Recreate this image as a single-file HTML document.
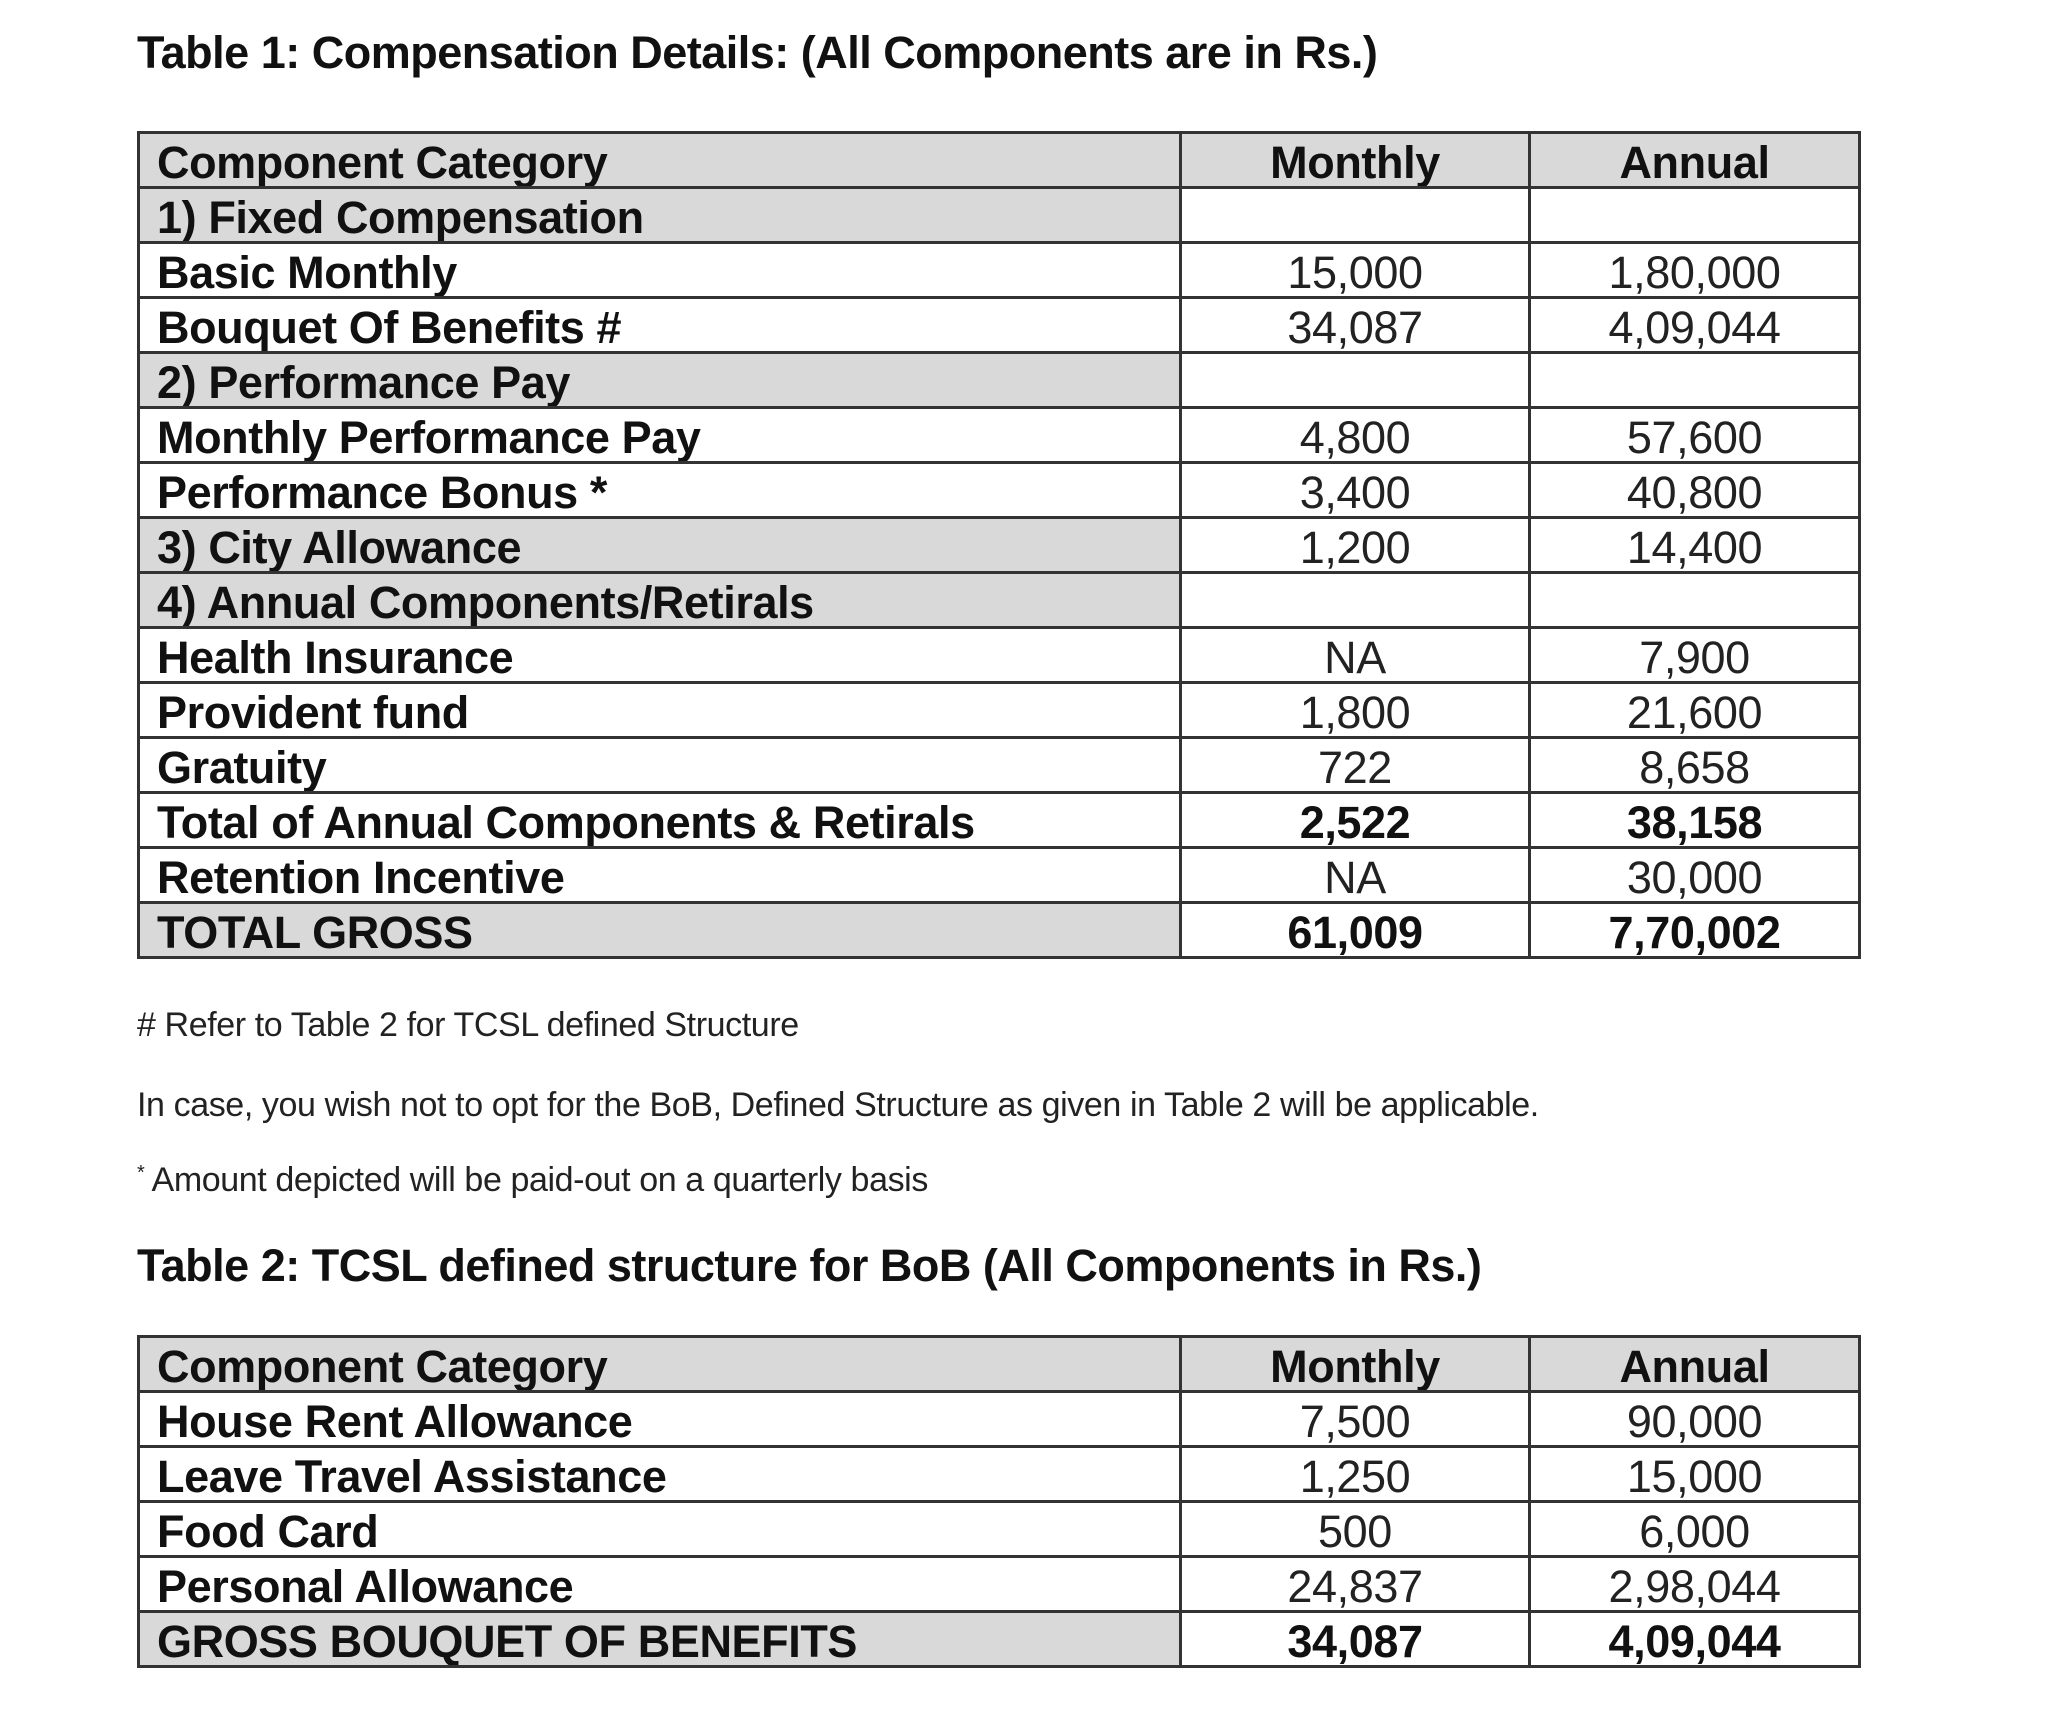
<!DOCTYPE html>
<html><head><meta charset="utf-8">
<style>
body{margin:0;width:2048px;height:1726px;background:#fff;position:relative;overflow:hidden;font-family:"Liberation Sans",Arial,sans-serif;color:#111}
.title{position:absolute;left:137px;font-weight:bold;font-size:45px;letter-spacing:-0.5px;white-space:nowrap;line-height:1}
.note{position:absolute;left:137px;font-size:34px;color:#222;white-space:nowrap;line-height:1;letter-spacing:-0.4px}
table{position:absolute;left:137px;border-collapse:collapse;table-layout:fixed;width:1721px}
td{border:3px solid #333;height:52px;padding:0;font-size:45px;line-height:52px;white-space:nowrap;overflow:hidden;letter-spacing:-0.4px}
td span{position:relative;top:3px}
td.l{padding-left:17px;font-weight:bold}
td.n{text-align:center;color:#222}
td.b{font-weight:bold;color:#111}
.g{background:#d9d9d9}
</style></head><body>
<div class="title" style="top:30px">Table 1: Compensation Details: (All Components are in Rs.)</div>
<table id="t1" style="top:131px">
<colgroup><col style="width:1042px"><col style="width:349px"><col style="width:330px"></colgroup>
</table>
<div class="note" style="top:1008px"># Refer to Table 2 for TCSL defined Structure</div>
<div class="note" style="top:1088px">In case, you wish not to opt for the BoB, Defined Structure as given in Table 2 will be applicable.</div>
<div class="note" style="top:1163px"><span style="font-size:20px;vertical-align:top">*</span> Amount depicted will be paid-out on a quarterly basis</div>
<div class="title" style="top:1243px">Table 2: TCSL defined structure for BoB (All Components in Rs.)</div>
<table id="t2" style="top:1335px">
<colgroup><col style="width:1042px"><col style="width:349px"><col style="width:330px"></colgroup>
</table>
<script>
const t1Labels=["Component Category","1) Fixed Compensation","Basic Monthly","Bouquet Of Benefits #","2) Performance Pay","Monthly Performance Pay","Performance Bonus *","3) City Allowance","4) Annual Components/Retirals","Health Insurance","Provident fund","Gratuity","Total of Annual Components & Retirals","Retention Incentive","TOTAL GROSS"];
const t1Monthly=["Monthly","","15,000","34,087","","4,800","3,400","1,200","","NA","1,800","722","2,522","NA","61,009"];
const t1Annual=["Annual","","1,80,000","4,09,044","","57,600","40,800","14,400","","7,900","21,600","8,658","38,158","30,000","7,70,002"];
const t1Gray=[1,1,0,0,1,0,0,1,1,0,0,0,0,0,1];
const t1Bold=[1,0,0,0,0,0,0,0,0,0,0,0,1,0,1];
const t2Labels=["Component Category","House Rent Allowance","Leave Travel Assistance","Food Card","Personal Allowance","GROSS BOUQUET OF BENEFITS"];
const t2Monthly=["Monthly","7,500","1,250","500","24,837","34,087"];
const t2Annual=["Annual","90,000","15,000","6,000","2,98,044","4,09,044"];
const t2Gray=[1,0,0,0,0,1];
const t2Bold=[1,0,0,0,0,1];
function mk(txt){const s=document.createElement('span');s.textContent=txt;return s;}
function build(id,labels,m,a,gray,bold){
  const t=document.getElementById(id);
  labels.forEach((lab,i)=>{
    const tr=document.createElement('tr');
    
    
    const c1=document.createElement('td');
    
    
    c1.className='l'+(gray[i]?' g':'');c1.appendChild(mk(lab));
    const c2=document.createElement('td');
    
    
    c2.className='n'+(bold[i]?' b':'')+(i===0?' g':'');c2.appendChild(mk(m[i]));
    const c3=document.createElement('td');
    
    
    c3.className='n'+(bold[i]?' b':'')+(i===0?' g':'');c3.appendChild(mk(a[i]));
    tr.append(c1,c2,c3);t.appendChild(tr);
  });
}
build('t1',t1Labels,t1Monthly,t1Annual,t1Gray,t1Bold);
build('t2',t2Labels,t2Monthly,t2Annual,t2Gray,t2Bold);
</script>
</body></html>
